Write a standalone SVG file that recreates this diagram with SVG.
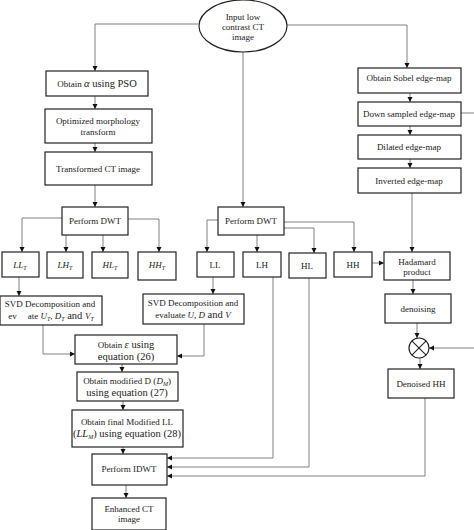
<svg xmlns="http://www.w3.org/2000/svg" width="474" height="530" viewBox="0 0 474 530">
<defs>
<marker id="ah" markerWidth="6" markerHeight="6" refX="5" refY="3" orient="auto" markerUnits="userSpaceOnUse">
<path d="M0,0.5 L5,3 L0,5.5 z" fill="#111"/>
</marker>
</defs>
<style>
.box{fill:#fff;stroke:#222;stroke-width:1.2}
.t{font-family:"Liberation Serif","Times New Roman",serif;font-size:9px;fill:#222;text-anchor:middle}
.m{font-size:10.5px}
.i{font-style:italic}
.c{fill:none;stroke:#808080;stroke-width:1}
.a{marker-end:url(#ah)}
</style>
<rect width="474" height="530" fill="#fff"/>
<g id="connectors">
<polyline class="c a" points="198,24 95,24 95,71"/>
<polyline class="c a" points="287,25 407,25 407,68"/>
<line class="c a" x1="243" y1="52" x2="243" y2="207"/>
<line class="c a" x1="95" y1="96" x2="95" y2="109"/>
<line class="c a" x1="95" y1="143" x2="95" y2="152"/>
<line class="c a" x1="95" y1="185" x2="95" y2="207"/>
<polyline class="c a" points="62,218 22,218 22,252"/>
<line class="c a" x1="66" y1="235" x2="66" y2="252"/>
<line class="c a" x1="103" y1="235" x2="103" y2="252"/>
<polyline class="c a" points="128,219 159,219 159,252"/>
<line class="c a" x1="19" y1="277" x2="19" y2="296"/>
<polyline class="c a" points="43,325 43,354 75,354"/>
<polyline class="c a" points="218,220 207,220 207,252"/>
<line class="c a" x1="257" y1="235" x2="257" y2="252"/>
<polyline class="c a" points="284,228 314,228 314,253"/>
<polyline class="c a" points="284,222 354,222 354,252"/>
<line class="c a" x1="213" y1="277" x2="213" y2="294"/>
<polyline class="c a" points="204,324 204,356 177,356"/>
<line class="c a" x1="122" y1="364" x2="122" y2="372"/>
<line class="c a" x1="123" y1="401" x2="123" y2="410"/>
<line class="c a" x1="123" y1="447" x2="123" y2="454"/>
<line class="c a" x1="126" y1="485" x2="126" y2="498"/>
<polyline class="c a" points="273,277 273,458 167,458"/>
<polyline class="c a" points="309,278 309,467 167,467"/>
<polyline class="c a" points="425,398 425,476 167,476"/>
<line class="c a" x1="372" y1="263" x2="384" y2="263"/>
<line class="c a" x1="410" y1="93" x2="410" y2="102"/>
<line class="c a" x1="410" y1="126" x2="410" y2="135"/>
<line class="c a" x1="410" y1="159" x2="410" y2="168"/>
<line class="c a" x1="412" y1="193" x2="412" y2="252"/>
<line class="c" x1="461" y1="113" x2="474" y2="113"/>
<line class="c a" x1="413" y1="280" x2="413" y2="294"/>
<line class="c a" x1="417" y1="323" x2="417" y2="338"/>
<line class="c a" x1="474" y1="348" x2="429" y2="348"/>
<line class="c a" x1="420" y1="358" x2="420" y2="369"/>
</g>
<g id="input">
<ellipse cx="243" cy="26" rx="44" ry="26" fill="#fff" stroke="#222" stroke-width="1.2"/>
<text class="t" x="243" y="20">Input low</text>
<text class="t" x="243" y="30">contrast CT</text>
<text class="t" x="243" y="40">image</text>
</g>
<g id="pso">
<rect class="box" x="46" y="71" width="102" height="25"/>
<text class="t" x="97" y="87">Obtain <tspan class="m i">α</tspan><tspan class="m"> using PSO</tspan></text>
</g>
<g id="morph">
<rect class="box" x="45" y="109" width="107" height="34"/>
<text class="t" x="98" y="124">Optimized morphology</text>
<text class="t" x="98" y="135">transform</text>
</g>
<g id="transformed">
<rect class="box" x="45" y="152" width="107" height="33"/>
<text class="t" x="98" y="172">Transformed CT image</text>
</g>
<g id="dwt1">
<rect class="box" x="62" y="207" width="66" height="28"/>
<text class="t" x="95" y="224">Perform DWT</text>
</g>
<g id="llt">
<rect class="box" x="2" y="252" width="37" height="25"/>
<text class="t i" x="20" y="268">LL<tspan font-size="6" dy="2">T</tspan></text>
</g>
<g id="lht">
<rect class="box" x="47" y="252" width="36" height="26"/>
<text class="t i" x="65" y="268">LH<tspan font-size="6" dy="2">T</tspan></text>
</g>
<g id="hlt">
<rect class="box" x="92" y="252" width="36" height="26"/>
<text class="t i" x="110" y="268">HL<tspan font-size="6" dy="2">T</tspan></text>
</g>
<g id="hht">
<rect class="box" x="138" y="252" width="38" height="28"/>
<text class="t i" x="157" y="268">HH<tspan font-size="6" dy="2">T</tspan></text>
</g>
<g id="svd1">
<rect class="box" x="0" y="296" width="102" height="29"/>
<text class="t" x="50" y="307">SVD Decomposition and</text>
<text class="t" x="51" y="319">ev<tspan dx="11">ate </tspan><tspan class="i">U<tspan font-size="6" dy="2">T</tspan></tspan><tspan dy="-2">, </tspan><tspan class="i">D<tspan font-size="6" dy="2">T</tspan></tspan><tspan dy="-2" class="m"> and </tspan><tspan class="i">V<tspan font-size="6" dy="2">T</tspan></tspan></text>
</g>
<g id="dwt2">
<rect class="box" x="218" y="207" width="66" height="28"/>
<text class="t" x="251" y="224">Perform DWT</text>
</g>
<g id="ll">
<rect class="box" x="197" y="252" width="37" height="25"/>
<text class="t" x="215" y="268">LL</text>
</g>
<g id="lh">
<rect class="box" x="243" y="252" width="38" height="25"/>
<text class="t" x="262" y="268">LH</text>
</g>
<g id="hl">
<rect class="box" x="289" y="253" width="37" height="25"/>
<text class="t" x="307" y="269">HL</text>
</g>
<g id="hh">
<rect class="box" x="334" y="252" width="38" height="25"/>
<text class="t" x="353" y="268">HH</text>
</g>
<g id="svd2">
<rect class="box" x="143" y="294" width="101" height="30"/>
<text class="t" x="193" y="306">SVD Decomposition and</text>
<text class="t" x="193" y="318">evaluate <tspan class="i">U</tspan>, <tspan class="i">D</tspan><tspan class="m"> and </tspan><tspan class="i">V</tspan></text>
</g>
<g id="eps">
<rect class="box" x="75" y="335" width="102" height="29"/>
<text class="t" x="126" y="348">Obtain <tspan class="m i">ε</tspan><tspan class="m"> using</tspan></text>
<text class="t m" x="126" y="360">equation (26)</text>
</g>
<g id="dm">
<rect class="box" x="77" y="372" width="101" height="29"/>
<text class="t" x="127" y="384">Obtain modified D (<tspan class="i">D<tspan font-size="6" dy="2">M</tspan></tspan><tspan dy="-2">)</tspan></text>
<text class="t m" x="127" y="396">using equation (27)</text>
</g>
<g id="llm">
<rect class="box" x="72" y="410" width="111" height="37"/>
<text class="t" x="127" y="425">Obtain final Modified LL</text>
<text class="t m" x="127" y="437">(<tspan class="i">LL<tspan font-size="6" dy="2">M</tspan></tspan><tspan dy="-2">) using equation (28)</tspan></text>
</g>
<g id="idwt">
<rect class="box" x="92" y="454" width="75" height="31"/>
<text class="t" x="129" y="472">Perform IDWT</text>
</g>
<g id="enhanced">
<rect class="box" x="92" y="498" width="74" height="32"/>
<text class="t" x="129" y="512">Enhanced CT</text>
<text class="t" x="129" y="522">image</text>
</g>
<g id="sobel">
<rect class="box" x="358" y="68" width="103" height="25"/>
<text class="t" x="409" y="81">Obtain Sobel edge-map</text>
</g>
<g id="down">
<rect class="box" x="358" y="102" width="103" height="24"/>
<text class="t" x="409" y="117">Down sampled edge-map</text>
</g>
<g id="dilated">
<rect class="box" x="358" y="135" width="103" height="24"/>
<text class="t" x="409" y="150">Dilated edge-map</text>
</g>
<g id="inverted">
<rect class="box" x="358" y="168" width="103" height="25"/>
<text class="t" x="409" y="184">Inverted edge-map</text>
</g>
<g id="hadamard">
<rect class="box" x="384" y="252" width="66" height="28"/>
<text class="t" x="417" y="265">Hadamard</text>
<text class="t" x="417" y="275">product</text>
</g>
<g id="denoising">
<rect class="box" x="385" y="294" width="66" height="29"/>
<text class="t" x="418" y="312">denoising</text>
</g>
<g id="multiplier">
<circle cx="419" cy="348" r="10" fill="#fff" stroke="#222" stroke-width="1.2"/>
<path d="M411.9,340.9 L426.1,355.1 M426.1,340.9 L411.9,355.1" stroke="#222" stroke-width="1.1"/>
</g>
<g id="denoisedhh">
<rect class="box" x="388" y="369" width="66" height="29"/>
<text class="t" x="421" y="387">Denoised HH</text>
</g>
</svg>
